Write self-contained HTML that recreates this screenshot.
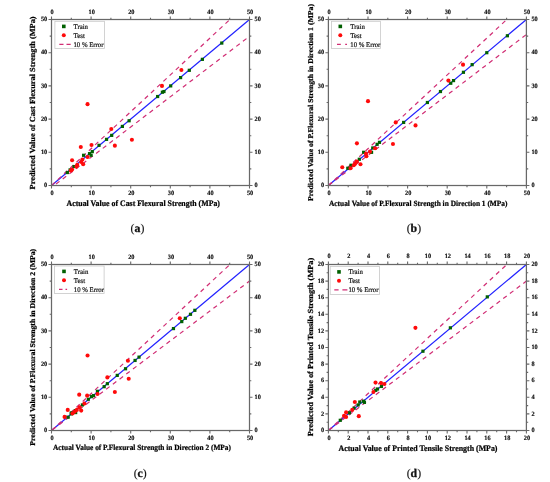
<!DOCTYPE html><html><head><meta charset="utf-8"><style>html,body{margin:0;padding:0;background:#fff;}svg{display:block;filter:blur(0.35px);}text{font-family:"Liberation Serif",serif;text-rendering:geometricPrecision;}</style></head><body>
<svg width="550" height="482" viewBox="0 0 550 482">
<rect width="550" height="482" fill="#fff"/>
<g transform="translate(51.5,19.5)">
<clipPath id="clipa"><rect x="0" y="0" width="198.0" height="166.0"/></clipPath>
<line x1="0" y1="166.0" x2="198.0" y2="0" stroke="#2222ff" stroke-width="1.2"/>
<line x1="0" y1="166.0" x2="178.4" y2="0" stroke="#d12d74" stroke-width="1.2" stroke-dasharray="4.4 4.08" stroke-dashoffset="8.28"/>
<line x1="0" y1="168" x2="198.0" y2="16.8" clip-path="url(#clipa)" stroke="#d12d74" stroke-width="1.2" stroke-dasharray="4.4 4.00" stroke-dashoffset="2.70"/>
<rect x="14.24" y="151.45" width="3.2" height="3.2" fill="#006000"/>
<rect x="17.01" y="148.8" width="3.2" height="3.2" fill="#006000"/>
<rect x="20.97" y="145.48" width="3.2" height="3.2" fill="#006000"/>
<rect x="30.48" y="134.19" width="3.2" height="3.2" fill="#006000"/>
<rect x="36.42" y="132.53" width="3.2" height="3.2" fill="#006000"/>
<rect x="38" y="134.19" width="3.2" height="3.2" fill="#006000"/>
<rect x="39.19" y="130.54" width="3.2" height="3.2" fill="#006000"/>
<rect x="45.92" y="124.23" width="3.2" height="3.2" fill="#006000"/>
<rect x="53.44" y="118.25" width="3.2" height="3.2" fill="#006000"/>
<rect x="58.59" y="114.27" width="3.2" height="3.2" fill="#006000"/>
<rect x="69.28" y="105.3" width="3.2" height="3.2" fill="#006000"/>
<rect x="76.02" y="99.66" width="3.2" height="3.2" fill="#006000"/>
<rect x="104.53" y="75.42" width="3.2" height="3.2" fill="#006000"/>
<rect x="109.28" y="71.11" width="3.2" height="3.2" fill="#006000"/>
<rect x="110.86" y="70.44" width="3.2" height="3.2" fill="#006000"/>
<rect x="117.6" y="64.8" width="3.2" height="3.2" fill="#006000"/>
<rect x="127.5" y="56.5" width="3.2" height="3.2" fill="#006000"/>
<rect x="136.21" y="49.2" width="3.2" height="3.2" fill="#006000"/>
<rect x="149.28" y="38.24" width="3.2" height="3.2" fill="#006000"/>
<rect x="168.68" y="21.97" width="3.2" height="3.2" fill="#006000"/>
<circle cx="29.3" cy="127.49" r="2.05" fill="#ff0a0a"/>
<circle cx="40" cy="125.5" r="2.05" fill="#ff0a0a"/>
<circle cx="20.59" cy="140.77" r="2.05" fill="#ff0a0a"/>
<circle cx="36.04" cy="137.45" r="2.05" fill="#ff0a0a"/>
<circle cx="30.89" cy="140.1" r="2.05" fill="#ff0a0a"/>
<circle cx="29.7" cy="142.43" r="2.05" fill="#ff0a0a"/>
<circle cx="31.68" cy="144.75" r="2.05" fill="#ff0a0a"/>
<circle cx="25.74" cy="145.42" r="2.05" fill="#ff0a0a"/>
<circle cx="24.95" cy="147.08" r="2.05" fill="#ff0a0a"/>
<circle cx="20.59" cy="150.06" r="2.05" fill="#ff0a0a"/>
<circle cx="19.4" cy="151.06" r="2.05" fill="#ff0a0a"/>
<circle cx="36.04" cy="84.66" r="2.05" fill="#ff0a0a"/>
<circle cx="59.8" cy="109.56" r="2.05" fill="#ff0a0a"/>
<circle cx="80.39" cy="120.18" r="2.05" fill="#ff0a0a"/>
<circle cx="63.36" cy="126.16" r="2.05" fill="#ff0a0a"/>
<circle cx="129.89" cy="50.46" r="2.05" fill="#ff0a0a"/>
<circle cx="110.48" cy="66.4" r="2.05" fill="#ff0a0a"/>
<rect x="0" y="0" width="198.0" height="166.0" fill="none" stroke="#686868" stroke-width="1.25"/>
<path d="M0 166.0v3.0M0 0v-3.0M0 166h-3.0M198.0 166h3.0M19.8 166.0v1.8M19.8 0v-1.8M0 149.4h-1.8M198.0 149.4h1.8M39.6 166.0v3.0M39.6 0v-3.0M0 132.8h-3.0M198.0 132.8h3.0M59.4 166.0v1.8M59.4 0v-1.8M0 116.2h-1.8M198.0 116.2h1.8M79.2 166.0v3.0M79.2 0v-3.0M0 99.6h-3.0M198.0 99.6h3.0M99 166.0v1.8M99 0v-1.8M0 83h-1.8M198.0 83h1.8M118.8 166.0v3.0M118.8 0v-3.0M0 66.4h-3.0M198.0 66.4h3.0M138.6 166.0v1.8M138.6 0v-1.8M0 49.8h-1.8M198.0 49.8h1.8M158.4 166.0v3.0M158.4 0v-3.0M0 33.2h-3.0M198.0 33.2h3.0M178.2 166.0v1.8M178.2 0v-1.8M0 16.6h-1.8M198.0 16.6h1.8M198 166.0v3.0M198 0v-3.0M0 0h-3.0M198.0 0h3.0" stroke="#686868" stroke-width="1.1" fill="none"/>
<g font-size="6.6" font-weight="bold" fill="#111" stroke="#111" stroke-width="0.15"><text x="0.6" y="175.6" text-anchor="middle" textLength="3.15" lengthAdjust="spacingAndGlyphs">0</text><text x="0.6" y="-6.0" text-anchor="middle" textLength="3.15" lengthAdjust="spacingAndGlyphs">0</text><text x="-4.3" y="167.7" text-anchor="end" textLength="3.15" lengthAdjust="spacingAndGlyphs">0</text><text x="203.0" y="167.7" text-anchor="start" textLength="3.15" lengthAdjust="spacingAndGlyphs">0</text><text x="40.2" y="175.6" text-anchor="middle" textLength="6.3" lengthAdjust="spacingAndGlyphs">10</text><text x="40.2" y="-6.0" text-anchor="middle" textLength="6.3" lengthAdjust="spacingAndGlyphs">10</text><text x="-4.3" y="134.5" text-anchor="end" textLength="6.3" lengthAdjust="spacingAndGlyphs">10</text><text x="203.0" y="134.5" text-anchor="start" textLength="6.3" lengthAdjust="spacingAndGlyphs">10</text><text x="79.8" y="175.6" text-anchor="middle" textLength="6.3" lengthAdjust="spacingAndGlyphs">20</text><text x="79.8" y="-6.0" text-anchor="middle" textLength="6.3" lengthAdjust="spacingAndGlyphs">20</text><text x="-4.3" y="101.3" text-anchor="end" textLength="6.3" lengthAdjust="spacingAndGlyphs">20</text><text x="203.0" y="101.3" text-anchor="start" textLength="6.3" lengthAdjust="spacingAndGlyphs">20</text><text x="119.4" y="175.6" text-anchor="middle" textLength="6.3" lengthAdjust="spacingAndGlyphs">30</text><text x="119.4" y="-6.0" text-anchor="middle" textLength="6.3" lengthAdjust="spacingAndGlyphs">30</text><text x="-4.3" y="68.1" text-anchor="end" textLength="6.3" lengthAdjust="spacingAndGlyphs">30</text><text x="203.0" y="68.1" text-anchor="start" textLength="6.3" lengthAdjust="spacingAndGlyphs">30</text><text x="159" y="175.6" text-anchor="middle" textLength="6.3" lengthAdjust="spacingAndGlyphs">40</text><text x="159" y="-6.0" text-anchor="middle" textLength="6.3" lengthAdjust="spacingAndGlyphs">40</text><text x="-4.3" y="34.9" text-anchor="end" textLength="6.3" lengthAdjust="spacingAndGlyphs">40</text><text x="203.0" y="34.9" text-anchor="start" textLength="6.3" lengthAdjust="spacingAndGlyphs">40</text><text x="198.6" y="175.6" text-anchor="middle" textLength="6.3" lengthAdjust="spacingAndGlyphs">50</text><text x="198.6" y="-6.0" text-anchor="middle" textLength="6.3" lengthAdjust="spacingAndGlyphs">50</text><text x="-4.3" y="1.7" text-anchor="end" textLength="6.3" lengthAdjust="spacingAndGlyphs">50</text><text x="203.0" y="1.7" text-anchor="start" textLength="6.3" lengthAdjust="spacingAndGlyphs">50</text></g>
<rect x="3.4" y="1.8" width="49.6" height="27.2" fill="#fff" stroke="#c8c8c8" stroke-width="0.8"/>
<g transform="translate(0,0)">
<rect x="10.5" y="5.1" width="3.6" height="3.6" fill="#006000"/>
<circle cx="12.3" cy="15.8" r="2.0" fill="#ff0a0a"/>
<path d="M7.8 24.8H12.0M15.0 24.8H19.2" stroke="#d12d74" stroke-width="1.2"/>
<g font-size="7.1" fill="#111" stroke="#111" stroke-width="0.2"><text x="22.0" y="9.4" textLength="14.5" lengthAdjust="spacingAndGlyphs">Train</text><text x="22.0" y="18.1" textLength="11.4" lengthAdjust="spacingAndGlyphs">Test</text><text x="22.0" y="27.1" textLength="30" lengthAdjust="spacingAndGlyphs">10 % Error</text></g>
</g>
</g>
<text x="66.5" y="205.8" font-size="8.45" font-weight="bold" fill="#000" stroke="#000" stroke-width="0.22" textLength="153.5" lengthAdjust="spacingAndGlyphs">Actual Value of Cast Flexural Strength (MPa)</text>
<text transform="translate(34.6,189.4) rotate(-90)" x="0" y="0" font-size="7.78" font-weight="bold" fill="#000" stroke="#000" stroke-width="0.22" textLength="173.0" lengthAdjust="spacingAndGlyphs">Predicted Value of Cast Flexural Strength (MPa)</text>
<text x="137.5" y="231.7" font-size="11.8" text-anchor="middle" fill="#111" stroke="#111" stroke-width="0.12">(<tspan font-weight="bold" stroke="#111" stroke-width="0.3">a</tspan>)</text>
<g transform="translate(328.4,19.5)">
<clipPath id="clipb"><rect x="0" y="0" width="198.0" height="166.0"/></clipPath>
<line x1="0" y1="166.0" x2="198.0" y2="0" stroke="#2222ff" stroke-width="1.2"/>
<line x1="0" y1="166.0" x2="178.4" y2="0" stroke="#d12d74" stroke-width="1.2" stroke-dasharray="4.4 4.08" stroke-dashoffset="8.68"/>
<line x1="0" y1="166" x2="198.0" y2="15" clip-path="url(#clipb)" stroke="#d12d74" stroke-width="1.2" stroke-dasharray="4.4 4.00" stroke-dashoffset="8.00"/>
<rect x="17.8" y="147.14" width="3.2" height="3.2" fill="#006000"/>
<rect x="20.97" y="144.15" width="3.2" height="3.2" fill="#006000"/>
<rect x="29.29" y="138.17" width="3.2" height="3.2" fill="#006000"/>
<rect x="33.64" y="131.2" width="3.2" height="3.2" fill="#006000"/>
<rect x="41.56" y="131.2" width="3.2" height="3.2" fill="#006000"/>
<rect x="42.75" y="126.88" width="3.2" height="3.2" fill="#006000"/>
<rect x="47.11" y="123.23" width="3.2" height="3.2" fill="#006000"/>
<rect x="49.48" y="121.24" width="3.2" height="3.2" fill="#006000"/>
<rect x="73.64" y="101.32" width="3.2" height="3.2" fill="#006000"/>
<rect x="97.4" y="81.4" width="3.2" height="3.2" fill="#006000"/>
<rect x="110.47" y="70.44" width="3.2" height="3.2" fill="#006000"/>
<rect x="120.76" y="62.14" width="3.2" height="3.2" fill="#006000"/>
<rect x="123.54" y="59.49" width="3.2" height="3.2" fill="#006000"/>
<rect x="133.44" y="51.19" width="3.2" height="3.2" fill="#006000"/>
<rect x="142.15" y="43.55" width="3.2" height="3.2" fill="#006000"/>
<rect x="156.8" y="31.6" width="3.2" height="3.2" fill="#006000"/>
<rect x="177.39" y="14.67" width="3.2" height="3.2" fill="#006000"/>
<circle cx="28.51" cy="123.84" r="2.05" fill="#ff0a0a"/>
<circle cx="13.86" cy="147.74" r="2.05" fill="#ff0a0a"/>
<circle cx="22.18" cy="148.74" r="2.05" fill="#ff0a0a"/>
<circle cx="25.34" cy="145.75" r="2.05" fill="#ff0a0a"/>
<circle cx="26.53" cy="144.42" r="2.05" fill="#ff0a0a"/>
<circle cx="28.51" cy="142.1" r="2.05" fill="#ff0a0a"/>
<circle cx="32.08" cy="144.75" r="2.05" fill="#ff0a0a"/>
<circle cx="37.62" cy="134.13" r="2.05" fill="#ff0a0a"/>
<circle cx="38.02" cy="136.78" r="2.05" fill="#ff0a0a"/>
<circle cx="41.58" cy="132.14" r="2.05" fill="#ff0a0a"/>
<circle cx="46.73" cy="128.82" r="2.05" fill="#ff0a0a"/>
<circle cx="39.6" cy="81.67" r="2.05" fill="#ff0a0a"/>
<circle cx="67.32" cy="102.92" r="2.05" fill="#ff0a0a"/>
<circle cx="87.12" cy="105.91" r="2.05" fill="#ff0a0a"/>
<circle cx="64.55" cy="124.5" r="2.05" fill="#ff0a0a"/>
<circle cx="134.64" cy="45.15" r="2.05" fill="#ff0a0a"/>
<circle cx="119.99" cy="61.09" r="2.05" fill="#ff0a0a"/>
<rect x="0" y="0" width="198.0" height="166.0" fill="none" stroke="#686868" stroke-width="1.25"/>
<path d="M0 166.0v3.0M0 0v-3.0M0 166h-3.0M198.0 166h3.0M19.8 166.0v1.8M19.8 0v-1.8M0 149.4h-1.8M198.0 149.4h1.8M39.6 166.0v3.0M39.6 0v-3.0M0 132.8h-3.0M198.0 132.8h3.0M59.4 166.0v1.8M59.4 0v-1.8M0 116.2h-1.8M198.0 116.2h1.8M79.2 166.0v3.0M79.2 0v-3.0M0 99.6h-3.0M198.0 99.6h3.0M99 166.0v1.8M99 0v-1.8M0 83h-1.8M198.0 83h1.8M118.8 166.0v3.0M118.8 0v-3.0M0 66.4h-3.0M198.0 66.4h3.0M138.6 166.0v1.8M138.6 0v-1.8M0 49.8h-1.8M198.0 49.8h1.8M158.4 166.0v3.0M158.4 0v-3.0M0 33.2h-3.0M198.0 33.2h3.0M178.2 166.0v1.8M178.2 0v-1.8M0 16.6h-1.8M198.0 16.6h1.8M198 166.0v3.0M198 0v-3.0M0 0h-3.0M198.0 0h3.0" stroke="#686868" stroke-width="1.1" fill="none"/>
<g font-size="6.6" font-weight="bold" fill="#111" stroke="#111" stroke-width="0.15"><text x="0.6" y="175.6" text-anchor="middle" textLength="3.15" lengthAdjust="spacingAndGlyphs">0</text><text x="0.6" y="-6.0" text-anchor="middle" textLength="3.15" lengthAdjust="spacingAndGlyphs">0</text><text x="-4.3" y="167.7" text-anchor="end" textLength="3.15" lengthAdjust="spacingAndGlyphs">0</text><text x="203.0" y="167.7" text-anchor="start" textLength="3.15" lengthAdjust="spacingAndGlyphs">0</text><text x="40.2" y="175.6" text-anchor="middle" textLength="6.3" lengthAdjust="spacingAndGlyphs">10</text><text x="40.2" y="-6.0" text-anchor="middle" textLength="6.3" lengthAdjust="spacingAndGlyphs">10</text><text x="-4.3" y="134.5" text-anchor="end" textLength="6.3" lengthAdjust="spacingAndGlyphs">10</text><text x="203.0" y="134.5" text-anchor="start" textLength="6.3" lengthAdjust="spacingAndGlyphs">10</text><text x="79.8" y="175.6" text-anchor="middle" textLength="6.3" lengthAdjust="spacingAndGlyphs">20</text><text x="79.8" y="-6.0" text-anchor="middle" textLength="6.3" lengthAdjust="spacingAndGlyphs">20</text><text x="-4.3" y="101.3" text-anchor="end" textLength="6.3" lengthAdjust="spacingAndGlyphs">20</text><text x="203.0" y="101.3" text-anchor="start" textLength="6.3" lengthAdjust="spacingAndGlyphs">20</text><text x="119.4" y="175.6" text-anchor="middle" textLength="6.3" lengthAdjust="spacingAndGlyphs">30</text><text x="119.4" y="-6.0" text-anchor="middle" textLength="6.3" lengthAdjust="spacingAndGlyphs">30</text><text x="-4.3" y="68.1" text-anchor="end" textLength="6.3" lengthAdjust="spacingAndGlyphs">30</text><text x="203.0" y="68.1" text-anchor="start" textLength="6.3" lengthAdjust="spacingAndGlyphs">30</text><text x="159" y="175.6" text-anchor="middle" textLength="6.3" lengthAdjust="spacingAndGlyphs">40</text><text x="159" y="-6.0" text-anchor="middle" textLength="6.3" lengthAdjust="spacingAndGlyphs">40</text><text x="-4.3" y="34.9" text-anchor="end" textLength="6.3" lengthAdjust="spacingAndGlyphs">40</text><text x="203.0" y="34.9" text-anchor="start" textLength="6.3" lengthAdjust="spacingAndGlyphs">40</text><text x="198.6" y="175.6" text-anchor="middle" textLength="6.3" lengthAdjust="spacingAndGlyphs">50</text><text x="198.6" y="-6.0" text-anchor="middle" textLength="6.3" lengthAdjust="spacingAndGlyphs">50</text><text x="-4.3" y="1.7" text-anchor="end" textLength="6.3" lengthAdjust="spacingAndGlyphs">50</text><text x="203.0" y="1.7" text-anchor="start" textLength="6.3" lengthAdjust="spacingAndGlyphs">50</text></g>
<rect x="3.1" y="1.8" width="49.1" height="27.2" fill="#fff" stroke="#c8c8c8" stroke-width="0.8"/>
<g transform="translate(0,0)">
<rect x="10.1" y="5.1" width="3.6" height="3.6" fill="#006000"/>
<circle cx="11.9" cy="15.8" r="2.0" fill="#ff0a0a"/>
<path d="M8.6 24.8H12.4M16.8 24.8H18.6" stroke="#d12d74" stroke-width="1.2"/>
<g font-size="7.1" fill="#111" stroke="#111" stroke-width="0.2"><text x="21.9" y="9.4" textLength="14.5" lengthAdjust="spacingAndGlyphs">Train</text><text x="21.9" y="18.1" textLength="11.4" lengthAdjust="spacingAndGlyphs">Test</text><text x="21.9" y="27.1" textLength="30" lengthAdjust="spacingAndGlyphs">10 % Error</text></g>
</g>
</g>
<text x="329.0" y="205.5" font-size="7.92" font-weight="bold" fill="#000" stroke="#000" stroke-width="0.22" textLength="178.5" lengthAdjust="spacingAndGlyphs">Actual Value of P.Flexural Strength in Direction 1 (MPa)</text>
<text transform="translate(312.6,201.0) rotate(-90)" x="0" y="0" font-size="7.39" font-weight="bold" fill="#000" stroke="#000" stroke-width="0.22" textLength="197.0" lengthAdjust="spacingAndGlyphs">Predicted Value of P.Flexural Strength in Direction 1 (MPa)</text>
<text x="413.9" y="231.7" font-size="11.8" text-anchor="middle" fill="#111" stroke="#111" stroke-width="0.12">(<tspan font-weight="bold" stroke="#111" stroke-width="0.3">b</tspan>)</text>
<g transform="translate(51.5,264.5)">
<clipPath id="clipc"><rect x="0" y="0" width="198.0" height="166.0"/></clipPath>
<line x1="0" y1="166.0" x2="198.0" y2="0" stroke="#2222ff" stroke-width="1.2"/>
<line x1="0" y1="166.0" x2="178.4" y2="0" stroke="#d12d74" stroke-width="1.2" stroke-dasharray="4.4 4.08" stroke-dashoffset="8.28"/>
<line x1="0" y1="166" x2="198.0" y2="16.6" clip-path="url(#clipc)" stroke="#d12d74" stroke-width="1.2" stroke-dasharray="4.4 4.00" stroke-dashoffset="7.15"/>
<rect x="15.03" y="151.12" width="3.2" height="3.2" fill="#006000"/>
<rect x="18.2" y="147.8" width="3.2" height="3.2" fill="#006000"/>
<rect x="22.16" y="144.48" width="3.2" height="3.2" fill="#006000"/>
<rect x="18.2" y="146.8" width="3.2" height="3.2" fill="#006000"/>
<rect x="22.56" y="146.47" width="3.2" height="3.2" fill="#006000"/>
<rect x="29.29" y="138.84" width="3.2" height="3.2" fill="#006000"/>
<rect x="35.23" y="133.19" width="3.2" height="3.2" fill="#006000"/>
<rect x="38.4" y="130.54" width="3.2" height="3.2" fill="#006000"/>
<rect x="40.38" y="129.54" width="3.2" height="3.2" fill="#006000"/>
<rect x="44.34" y="125.22" width="3.2" height="3.2" fill="#006000"/>
<rect x="51.07" y="120.58" width="3.2" height="3.2" fill="#006000"/>
<rect x="54.24" y="117.59" width="3.2" height="3.2" fill="#006000"/>
<rect x="64.14" y="109.29" width="3.2" height="3.2" fill="#006000"/>
<rect x="72.45" y="102.65" width="3.2" height="3.2" fill="#006000"/>
<rect x="81.96" y="94.35" width="3.2" height="3.2" fill="#006000"/>
<rect x="85.92" y="91.03" width="3.2" height="3.2" fill="#006000"/>
<rect x="120.37" y="62.48" width="3.2" height="3.2" fill="#006000"/>
<rect x="128.68" y="55.5" width="3.2" height="3.2" fill="#006000"/>
<rect x="132.25" y="52.18" width="3.2" height="3.2" fill="#006000"/>
<rect x="137.4" y="48.2" width="3.2" height="3.2" fill="#006000"/>
<rect x="141.75" y="44.22" width="3.2" height="3.2" fill="#006000"/>
<circle cx="27.72" cy="130.14" r="2.05" fill="#ff0a0a"/>
<circle cx="35.64" cy="131.14" r="2.05" fill="#ff0a0a"/>
<circle cx="16.24" cy="145.42" r="2.05" fill="#ff0a0a"/>
<circle cx="13.07" cy="152.39" r="2.05" fill="#ff0a0a"/>
<circle cx="20.99" cy="149.07" r="2.05" fill="#ff0a0a"/>
<circle cx="23.36" cy="147.08" r="2.05" fill="#ff0a0a"/>
<circle cx="25.34" cy="145.42" r="2.05" fill="#ff0a0a"/>
<circle cx="28.12" cy="142.76" r="2.05" fill="#ff0a0a"/>
<circle cx="29.7" cy="146.08" r="2.05" fill="#ff0a0a"/>
<circle cx="32.87" cy="139.11" r="2.05" fill="#ff0a0a"/>
<circle cx="36.04" cy="90.97" r="2.05" fill="#ff0a0a"/>
<circle cx="76.43" cy="96.28" r="2.05" fill="#ff0a0a"/>
<circle cx="55.84" cy="112.88" r="2.05" fill="#ff0a0a"/>
<circle cx="77.22" cy="114.21" r="2.05" fill="#ff0a0a"/>
<circle cx="63.36" cy="127.49" r="2.05" fill="#ff0a0a"/>
<circle cx="45.94" cy="129.48" r="2.05" fill="#ff0a0a"/>
<circle cx="128.3" cy="53.78" r="2.05" fill="#ff0a0a"/>
<rect x="0" y="0" width="198.0" height="166.0" fill="none" stroke="#686868" stroke-width="1.25"/>
<path d="M0 166.0v3.0M0 0v-3.0M0 166h-3.0M198.0 166h3.0M19.8 166.0v1.8M19.8 0v-1.8M0 149.4h-1.8M198.0 149.4h1.8M39.6 166.0v3.0M39.6 0v-3.0M0 132.8h-3.0M198.0 132.8h3.0M59.4 166.0v1.8M59.4 0v-1.8M0 116.2h-1.8M198.0 116.2h1.8M79.2 166.0v3.0M79.2 0v-3.0M0 99.6h-3.0M198.0 99.6h3.0M99 166.0v1.8M99 0v-1.8M0 83h-1.8M198.0 83h1.8M118.8 166.0v3.0M118.8 0v-3.0M0 66.4h-3.0M198.0 66.4h3.0M138.6 166.0v1.8M138.6 0v-1.8M0 49.8h-1.8M198.0 49.8h1.8M158.4 166.0v3.0M158.4 0v-3.0M0 33.2h-3.0M198.0 33.2h3.0M178.2 166.0v1.8M178.2 0v-1.8M0 16.6h-1.8M198.0 16.6h1.8M198 166.0v3.0M198 0v-3.0M0 0h-3.0M198.0 0h3.0" stroke="#686868" stroke-width="1.1" fill="none"/>
<g font-size="6.6" font-weight="bold" fill="#111" stroke="#111" stroke-width="0.15"><text x="0.6" y="175.6" text-anchor="middle" textLength="3.15" lengthAdjust="spacingAndGlyphs">0</text><text x="0.6" y="-6.0" text-anchor="middle" textLength="3.15" lengthAdjust="spacingAndGlyphs">0</text><text x="-4.3" y="167.7" text-anchor="end" textLength="3.15" lengthAdjust="spacingAndGlyphs">0</text><text x="203.0" y="167.7" text-anchor="start" textLength="3.15" lengthAdjust="spacingAndGlyphs">0</text><text x="40.2" y="175.6" text-anchor="middle" textLength="6.3" lengthAdjust="spacingAndGlyphs">10</text><text x="40.2" y="-6.0" text-anchor="middle" textLength="6.3" lengthAdjust="spacingAndGlyphs">10</text><text x="-4.3" y="134.5" text-anchor="end" textLength="6.3" lengthAdjust="spacingAndGlyphs">10</text><text x="203.0" y="134.5" text-anchor="start" textLength="6.3" lengthAdjust="spacingAndGlyphs">10</text><text x="79.8" y="175.6" text-anchor="middle" textLength="6.3" lengthAdjust="spacingAndGlyphs">20</text><text x="79.8" y="-6.0" text-anchor="middle" textLength="6.3" lengthAdjust="spacingAndGlyphs">20</text><text x="-4.3" y="101.3" text-anchor="end" textLength="6.3" lengthAdjust="spacingAndGlyphs">20</text><text x="203.0" y="101.3" text-anchor="start" textLength="6.3" lengthAdjust="spacingAndGlyphs">20</text><text x="119.4" y="175.6" text-anchor="middle" textLength="6.3" lengthAdjust="spacingAndGlyphs">30</text><text x="119.4" y="-6.0" text-anchor="middle" textLength="6.3" lengthAdjust="spacingAndGlyphs">30</text><text x="-4.3" y="68.1" text-anchor="end" textLength="6.3" lengthAdjust="spacingAndGlyphs">30</text><text x="203.0" y="68.1" text-anchor="start" textLength="6.3" lengthAdjust="spacingAndGlyphs">30</text><text x="159" y="175.6" text-anchor="middle" textLength="6.3" lengthAdjust="spacingAndGlyphs">40</text><text x="159" y="-6.0" text-anchor="middle" textLength="6.3" lengthAdjust="spacingAndGlyphs">40</text><text x="-4.3" y="34.9" text-anchor="end" textLength="6.3" lengthAdjust="spacingAndGlyphs">40</text><text x="203.0" y="34.9" text-anchor="start" textLength="6.3" lengthAdjust="spacingAndGlyphs">40</text><text x="198.6" y="175.6" text-anchor="middle" textLength="6.3" lengthAdjust="spacingAndGlyphs">50</text><text x="198.6" y="-6.0" text-anchor="middle" textLength="6.3" lengthAdjust="spacingAndGlyphs">50</text><text x="-4.3" y="1.7" text-anchor="end" textLength="6.3" lengthAdjust="spacingAndGlyphs">50</text><text x="203.0" y="1.7" text-anchor="start" textLength="6.3" lengthAdjust="spacingAndGlyphs">50</text></g>
<rect x="3.0" y="1.5" width="49.6" height="27.5" fill="#fff" stroke="#c8c8c8" stroke-width="0.8"/>
<g transform="translate(0,0)">
<rect x="10.7" y="5.1" width="3.6" height="3.6" fill="#006000"/>
<circle cx="12.5" cy="15.8" r="2.0" fill="#ff0a0a"/>
<path d="M7.5 24.8H11.0M14.0 24.8H15.6" stroke="#d12d74" stroke-width="1.2"/>
<g font-size="7.1" fill="#111" stroke="#111" stroke-width="0.2"><text x="22.3" y="9.4" textLength="14.5" lengthAdjust="spacingAndGlyphs">Train</text><text x="22.3" y="18.1" textLength="11.4" lengthAdjust="spacingAndGlyphs">Test</text><text x="22.3" y="27.1" textLength="30" lengthAdjust="spacingAndGlyphs">10 % Error</text></g>
</g>
</g>
<text x="53.0" y="450.3" font-size="7.92" font-weight="bold" fill="#000" stroke="#000" stroke-width="0.22" textLength="178.0" lengthAdjust="spacingAndGlyphs">Actual Value of P.Flexural Strength in Direction 2 (MPa)</text>
<text transform="translate(35.0,445.8) rotate(-90)" x="0" y="0" font-size="7.39" font-weight="bold" fill="#000" stroke="#000" stroke-width="0.22" textLength="197.0" lengthAdjust="spacingAndGlyphs">Predicted Value of P.Flexural Strength in Direction 2 (MPa)</text>
<text x="140.2" y="476.8" font-size="11.8" text-anchor="middle" fill="#111" stroke="#111" stroke-width="0.12">(<tspan font-weight="bold" stroke="#111" stroke-width="0.3">c</tspan>)</text>
<g transform="translate(328.4,264.5)">
<clipPath id="clipd"><rect x="0" y="0" width="198.0" height="166.0"/></clipPath>
<line x1="0" y1="166.0" x2="198.0" y2="0" stroke="#2222ff" stroke-width="1.2"/>
<line x1="0" y1="166.0" x2="178.4" y2="0" stroke="#d12d74" stroke-width="1.2" stroke-dasharray="4.4 4.08" stroke-dashoffset="8.43"/>
<line x1="0" y1="166" x2="198.0" y2="16.6" clip-path="url(#clipd)" stroke="#d12d74" stroke-width="1.2" stroke-dasharray="4.4 4.00" stroke-dashoffset="7.80"/>
<rect x="10.28" y="154.19" width="3.2" height="3.2" fill="#006000"/>
<rect x="19.39" y="146.72" width="3.2" height="3.2" fill="#006000"/>
<rect x="24.04" y="142.07" width="3.2" height="3.2" fill="#006000"/>
<rect x="28.1" y="138.84" width="3.2" height="3.2" fill="#006000"/>
<rect x="29.78" y="135.93" width="3.2" height="3.2" fill="#006000"/>
<rect x="33.54" y="135.1" width="3.2" height="3.2" fill="#006000"/>
<rect x="34.44" y="136.26" width="3.2" height="3.2" fill="#006000"/>
<rect x="45.72" y="124.23" width="3.2" height="3.2" fill="#006000"/>
<rect x="47.5" y="122.9" width="3.2" height="3.2" fill="#006000"/>
<rect x="51.46" y="120.33" width="3.2" height="3.2" fill="#006000"/>
<rect x="92.95" y="85.13" width="3.2" height="3.2" fill="#006000"/>
<rect x="120.37" y="61.73" width="3.2" height="3.2" fill="#006000"/>
<rect x="157.3" y="30.77" width="3.2" height="3.2" fill="#006000"/>
<circle cx="26.43" cy="137.53" r="2.05" fill="#ff0a0a"/>
<circle cx="30.39" cy="151.64" r="2.05" fill="#ff0a0a"/>
<circle cx="17.72" cy="147.91" r="2.05" fill="#ff0a0a"/>
<circle cx="15.64" cy="151.23" r="2.05" fill="#ff0a0a"/>
<circle cx="17.72" cy="152.47" r="2.05" fill="#ff0a0a"/>
<circle cx="23.86" cy="145.42" r="2.05" fill="#ff0a0a"/>
<circle cx="45.05" cy="127.57" r="2.05" fill="#ff0a0a"/>
<circle cx="47.12" cy="118.11" r="2.05" fill="#ff0a0a"/>
<circle cx="52.67" cy="118.61" r="2.05" fill="#ff0a0a"/>
<circle cx="56.03" cy="119.44" r="2.05" fill="#ff0a0a"/>
<circle cx="87.02" cy="63.33" r="2.05" fill="#ff0a0a"/>
<rect x="0" y="0" width="198.0" height="166.0" fill="none" stroke="#686868" stroke-width="1.25"/>
<path d="M0 166.0v3.0M0 0v-3.0M0 166h-3.0M198.0 166h3.0M9.9 166.0v1.8M9.9 0v-1.8M0 157.7h-1.8M198.0 157.7h1.8M19.8 166.0v3.0M19.8 0v-3.0M0 149.4h-3.0M198.0 149.4h3.0M29.7 166.0v1.8M29.7 0v-1.8M0 141.1h-1.8M198.0 141.1h1.8M39.6 166.0v3.0M39.6 0v-3.0M0 132.8h-3.0M198.0 132.8h3.0M49.5 166.0v1.8M49.5 0v-1.8M0 124.5h-1.8M198.0 124.5h1.8M59.4 166.0v3.0M59.4 0v-3.0M0 116.2h-3.0M198.0 116.2h3.0M69.3 166.0v1.8M69.3 0v-1.8M0 107.9h-1.8M198.0 107.9h1.8M79.2 166.0v3.0M79.2 0v-3.0M0 99.6h-3.0M198.0 99.6h3.0M89.1 166.0v1.8M89.1 0v-1.8M0 91.3h-1.8M198.0 91.3h1.8M99 166.0v3.0M99 0v-3.0M0 83h-3.0M198.0 83h3.0M108.9 166.0v1.8M108.9 0v-1.8M0 74.7h-1.8M198.0 74.7h1.8M118.8 166.0v3.0M118.8 0v-3.0M0 66.4h-3.0M198.0 66.4h3.0M128.7 166.0v1.8M128.7 0v-1.8M0 58.1h-1.8M198.0 58.1h1.8M138.6 166.0v3.0M138.6 0v-3.0M0 49.8h-3.0M198.0 49.8h3.0M148.5 166.0v1.8M148.5 0v-1.8M0 41.5h-1.8M198.0 41.5h1.8M158.4 166.0v3.0M158.4 0v-3.0M0 33.2h-3.0M198.0 33.2h3.0M168.3 166.0v1.8M168.3 0v-1.8M0 24.9h-1.8M198.0 24.9h1.8M178.2 166.0v3.0M178.2 0v-3.0M0 16.6h-3.0M198.0 16.6h3.0M188.1 166.0v1.8M188.1 0v-1.8M0 8.3h-1.8M198.0 8.3h1.8M198 166.0v3.0M198 0v-3.0M0 0h-3.0M198.0 0h3.0" stroke="#686868" stroke-width="1.1" fill="none"/>
<g font-size="6.6" font-weight="bold" fill="#111" stroke="#111" stroke-width="0.15"><text x="0.6" y="175.6" text-anchor="middle" textLength="3.15" lengthAdjust="spacingAndGlyphs">0</text><text x="0.6" y="-6.5" text-anchor="middle" textLength="3.15" lengthAdjust="spacingAndGlyphs">0</text><text x="-4.3" y="167.7" text-anchor="end" textLength="3.15" lengthAdjust="spacingAndGlyphs">0</text><text x="203.0" y="167.7" text-anchor="start" textLength="3.15" lengthAdjust="spacingAndGlyphs">0</text><text x="20.4" y="175.6" text-anchor="middle" textLength="3.15" lengthAdjust="spacingAndGlyphs">2</text><text x="20.4" y="-6.5" text-anchor="middle" textLength="3.15" lengthAdjust="spacingAndGlyphs">2</text><text x="-4.3" y="151.1" text-anchor="end" textLength="3.15" lengthAdjust="spacingAndGlyphs">2</text><text x="203.0" y="151.1" text-anchor="start" textLength="3.15" lengthAdjust="spacingAndGlyphs">2</text><text x="40.2" y="175.6" text-anchor="middle" textLength="3.15" lengthAdjust="spacingAndGlyphs">4</text><text x="40.2" y="-6.5" text-anchor="middle" textLength="3.15" lengthAdjust="spacingAndGlyphs">4</text><text x="-4.3" y="134.5" text-anchor="end" textLength="3.15" lengthAdjust="spacingAndGlyphs">4</text><text x="203.0" y="134.5" text-anchor="start" textLength="3.15" lengthAdjust="spacingAndGlyphs">4</text><text x="60" y="175.6" text-anchor="middle" textLength="3.15" lengthAdjust="spacingAndGlyphs">6</text><text x="60" y="-6.5" text-anchor="middle" textLength="3.15" lengthAdjust="spacingAndGlyphs">6</text><text x="-4.3" y="117.9" text-anchor="end" textLength="3.15" lengthAdjust="spacingAndGlyphs">6</text><text x="203.0" y="117.9" text-anchor="start" textLength="3.15" lengthAdjust="spacingAndGlyphs">6</text><text x="79.8" y="175.6" text-anchor="middle" textLength="3.15" lengthAdjust="spacingAndGlyphs">8</text><text x="79.8" y="-6.5" text-anchor="middle" textLength="3.15" lengthAdjust="spacingAndGlyphs">8</text><text x="-4.3" y="101.3" text-anchor="end" textLength="3.15" lengthAdjust="spacingAndGlyphs">8</text><text x="203.0" y="101.3" text-anchor="start" textLength="3.15" lengthAdjust="spacingAndGlyphs">8</text><text x="99.6" y="175.6" text-anchor="middle" textLength="6.3" lengthAdjust="spacingAndGlyphs">10</text><text x="99.6" y="-6.5" text-anchor="middle" textLength="6.3" lengthAdjust="spacingAndGlyphs">10</text><text x="-4.3" y="84.7" text-anchor="end" textLength="6.3" lengthAdjust="spacingAndGlyphs">10</text><text x="203.0" y="84.7" text-anchor="start" textLength="6.3" lengthAdjust="spacingAndGlyphs">10</text><text x="119.4" y="175.6" text-anchor="middle" textLength="6.3" lengthAdjust="spacingAndGlyphs">12</text><text x="119.4" y="-6.5" text-anchor="middle" textLength="6.3" lengthAdjust="spacingAndGlyphs">12</text><text x="-4.3" y="68.1" text-anchor="end" textLength="6.3" lengthAdjust="spacingAndGlyphs">12</text><text x="203.0" y="68.1" text-anchor="start" textLength="6.3" lengthAdjust="spacingAndGlyphs">12</text><text x="139.2" y="175.6" text-anchor="middle" textLength="6.3" lengthAdjust="spacingAndGlyphs">14</text><text x="139.2" y="-6.5" text-anchor="middle" textLength="6.3" lengthAdjust="spacingAndGlyphs">14</text><text x="-4.3" y="51.5" text-anchor="end" textLength="6.3" lengthAdjust="spacingAndGlyphs">14</text><text x="203.0" y="51.5" text-anchor="start" textLength="6.3" lengthAdjust="spacingAndGlyphs">14</text><text x="159" y="175.6" text-anchor="middle" textLength="6.3" lengthAdjust="spacingAndGlyphs">16</text><text x="159" y="-6.5" text-anchor="middle" textLength="6.3" lengthAdjust="spacingAndGlyphs">16</text><text x="-4.3" y="34.9" text-anchor="end" textLength="6.3" lengthAdjust="spacingAndGlyphs">16</text><text x="203.0" y="34.9" text-anchor="start" textLength="6.3" lengthAdjust="spacingAndGlyphs">16</text><text x="178.8" y="175.6" text-anchor="middle" textLength="6.3" lengthAdjust="spacingAndGlyphs">18</text><text x="178.8" y="-6.5" text-anchor="middle" textLength="6.3" lengthAdjust="spacingAndGlyphs">18</text><text x="-4.3" y="18.3" text-anchor="end" textLength="6.3" lengthAdjust="spacingAndGlyphs">18</text><text x="203.0" y="18.3" text-anchor="start" textLength="6.3" lengthAdjust="spacingAndGlyphs">18</text><text x="198.6" y="175.6" text-anchor="middle" textLength="6.3" lengthAdjust="spacingAndGlyphs">20</text><text x="198.6" y="-6.5" text-anchor="middle" textLength="6.3" lengthAdjust="spacingAndGlyphs">20</text><text x="-4.3" y="1.7" text-anchor="end" textLength="6.3" lengthAdjust="spacingAndGlyphs">20</text><text x="203.0" y="1.7" text-anchor="start" textLength="6.3" lengthAdjust="spacingAndGlyphs">20</text></g>
<rect x="1.8" y="1.9" width="49.3" height="28.1" fill="#fff" stroke="#c8c8c8" stroke-width="0.8"/>
<g transform="translate(0,0.5)">
<rect x="8.8" y="5.1" width="3.6" height="3.6" fill="#006000"/>
<circle cx="10.6" cy="15.8" r="2.0" fill="#ff0a0a"/>
<path d="M5.9 24.8H10.2M14.0 24.8H19.0" stroke="#d12d74" stroke-width="1.2"/>
<g font-size="7.1" fill="#111" stroke="#111" stroke-width="0.2"><text x="20.0" y="9.4" textLength="14.5" lengthAdjust="spacingAndGlyphs">Train</text><text x="20.0" y="18.1" textLength="11.4" lengthAdjust="spacingAndGlyphs">Test</text><text x="20.0" y="27.1" textLength="30" lengthAdjust="spacingAndGlyphs">10 % Error</text></g>
</g>
</g>
<text x="338.5" y="450.5" font-size="8.45" font-weight="bold" fill="#000" stroke="#000" stroke-width="0.22" textLength="159.0" lengthAdjust="spacingAndGlyphs">Actual Value of Printed Tensile Strength (MPa)</text>
<text transform="translate(313.0,436.3) rotate(-90)" x="0" y="0" font-size="7.78" font-weight="bold" fill="#000" stroke="#000" stroke-width="0.22" textLength="178.6" lengthAdjust="spacingAndGlyphs">Predicted Value of Printed Tensile Strength (MPa)</text>
<text x="413.9" y="476.8" font-size="11.8" text-anchor="middle" fill="#111" stroke="#111" stroke-width="0.12">(<tspan font-weight="bold" stroke="#111" stroke-width="0.3">d</tspan>)</text>
</svg></body></html>
